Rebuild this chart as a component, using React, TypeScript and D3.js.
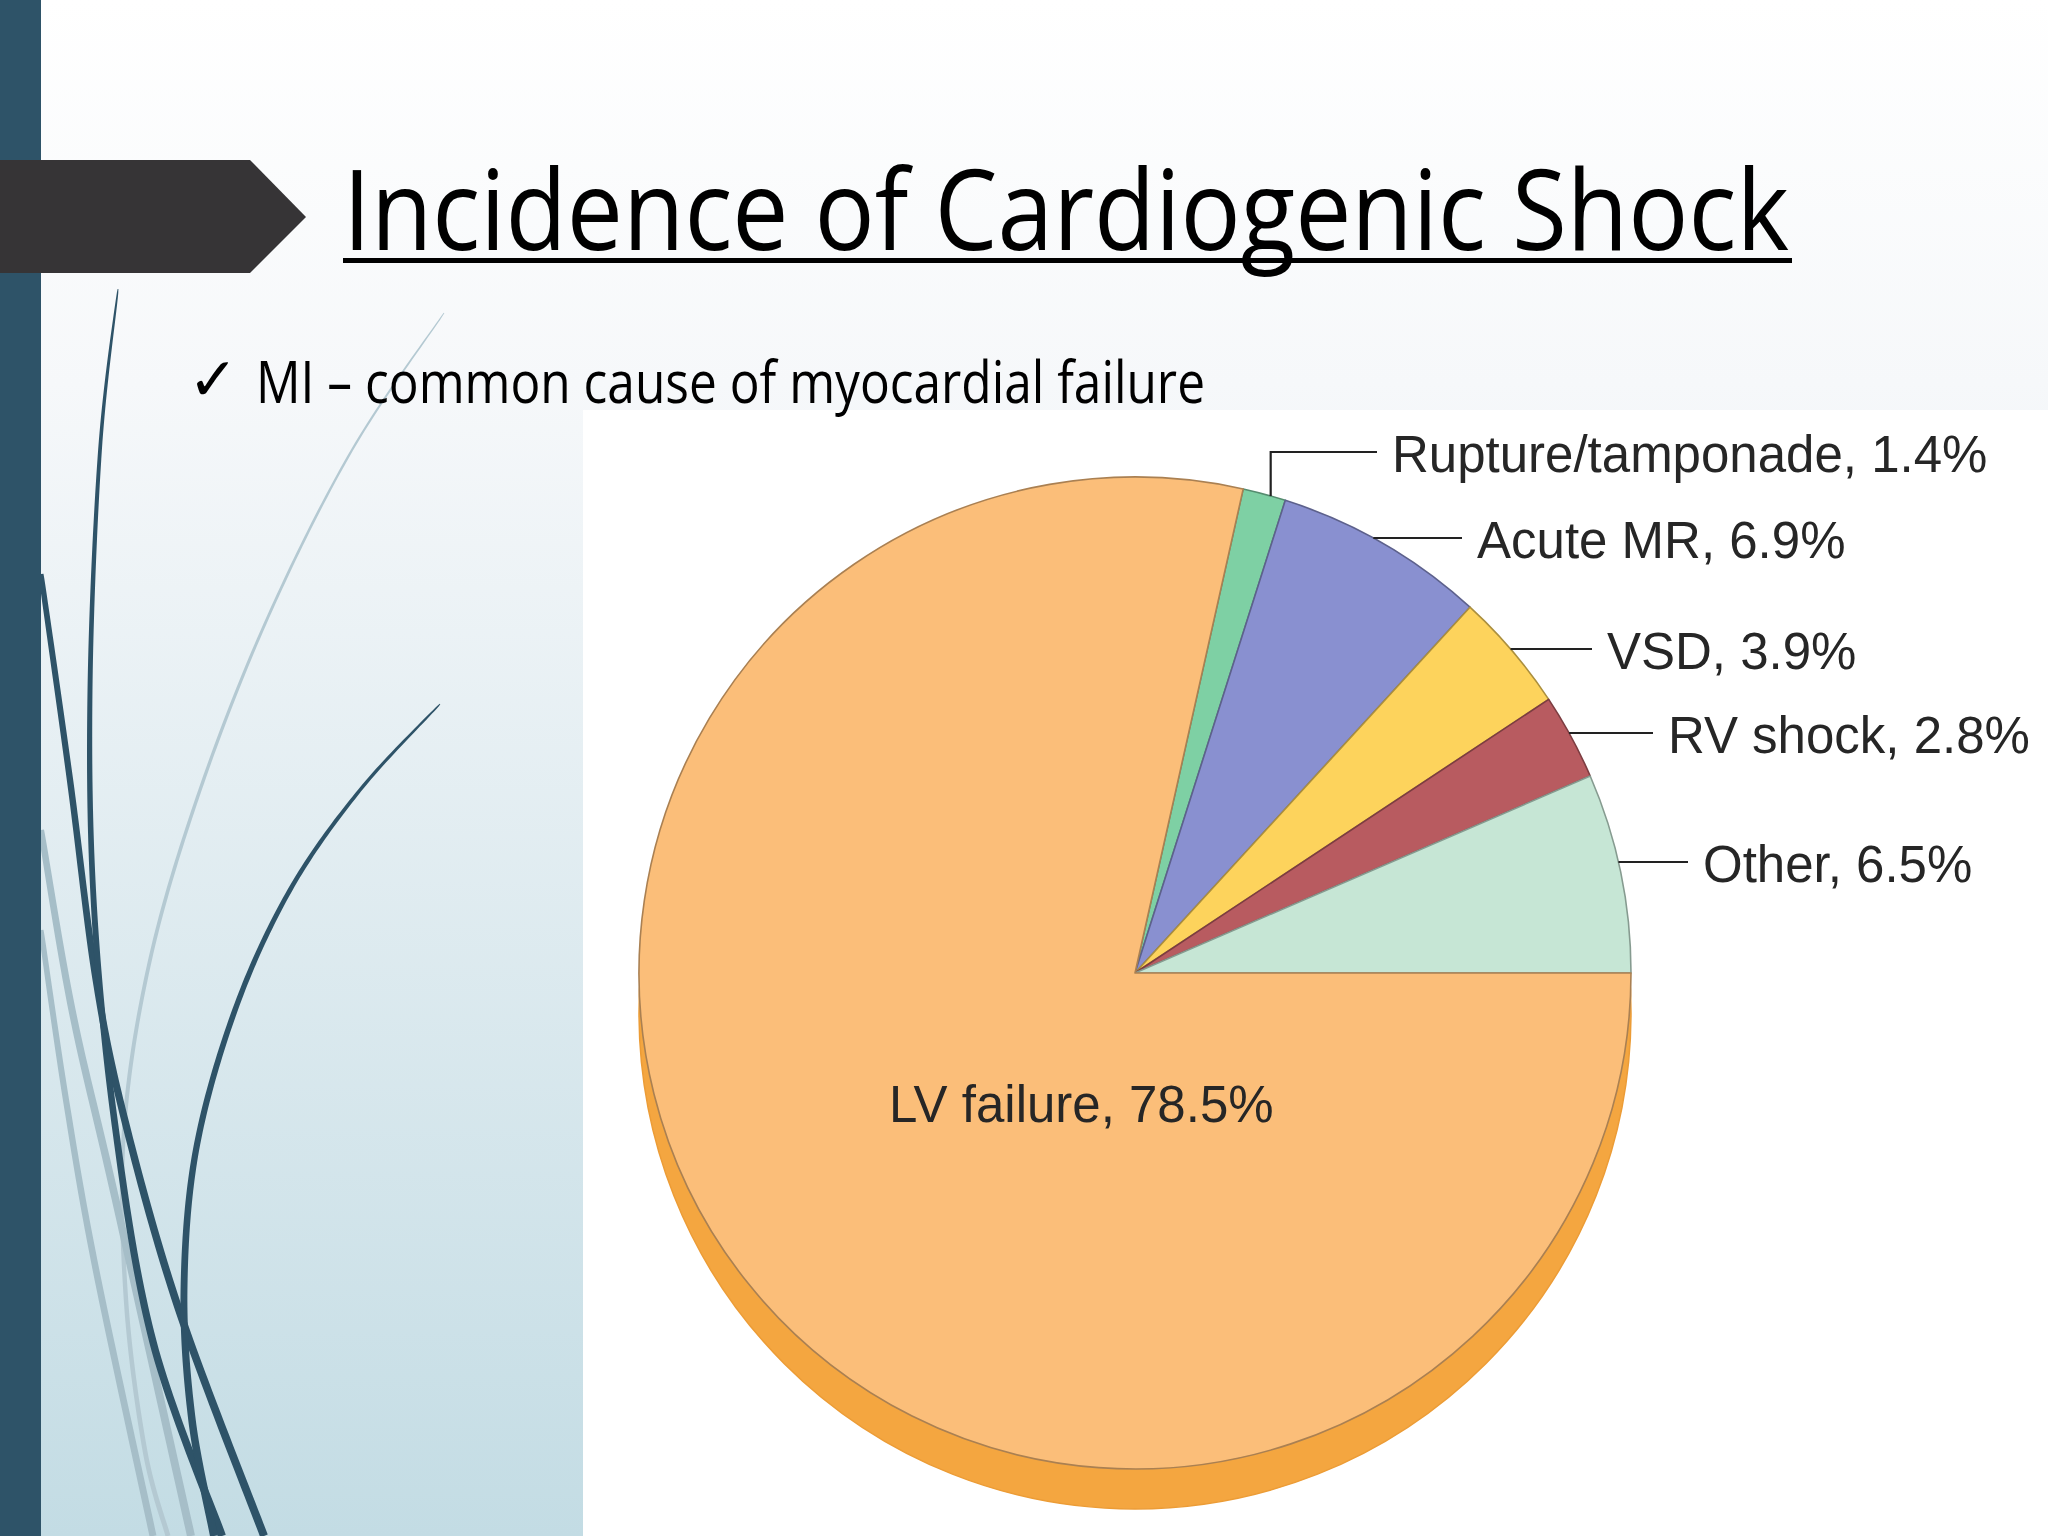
import React from "react";
import * as d3 from "d3";

// ---- data ----
const categories = ["Rupture/tamponade", "Acute MR", "VSD", "RV shock", "Other", "LV failure"];
const values = [1.4, 6.9, 3.9, 2.8, 6.5, 78.5];
const sliceColors = ["#7ED0A4", "#8990D0", "#FDD35C", "#B85B60", "#C6E6D5", "#FBBE79"];

const titleText = "Incidence of Cardiogenic Shock";
const bulletText = "MI \u2013 common cause of myocardial failure";

// ---- layout (positions, not data) ----
const W = 2048;
const H = 1536;
const cx = 1135;
const cy = 973;
const R = 496;
const depth = 40;
const labelLineY = [452, 538, 649, 733, 862];
const labelTextX = [1392, 1477, 1607, 1668, 1703];
const lvLabelPos = { x: 889, y: 1122 };

// decorative swooshes (background artwork): points, colour, start width, end width
type Swoosh = { pts: [number, number][]; color: string; w0: number; w1: number };
const swooshes: Swoosh[] = [
  { pts: [[444, 313], [352, 450], [268, 617], [200, 790], [150, 960], [124, 1130], [126, 1300], [145, 1451], [168, 1536]], color: "#B4C9D2", w0: 0.8, w1: 5 },
  { pts: [[41, 830], [72, 1010], [115, 1197], [191, 1536]], color: "#A6BEC8", w0: 6, w1: 8 },
  { pts: [[41, 930], [66, 1100], [96, 1270], [153, 1536]], color: "#A6BEC8", w0: 5, w1: 7 },
  { pts: [[41, 574], [70, 780], [96, 980], [126, 1125], [180, 1313], [264, 1536]], color: "#2E5368", w0: 5, w1: 8 },
  { pts: [[118, 289], [100, 450], [90, 690], [94, 907], [115, 1125], [153, 1342], [222, 1536]], color: "#2E5368", w0: 0.8, w1: 8 },
  { pts: [[440, 704], [360, 790], [290, 890], [235, 1010], [196, 1150], [184, 1290], [192, 1420], [214, 1536]], color: "#2E5368", w0: 0.8, w1: 8 },
];

function sampleCatmull(pts: [number, number][], steps: number): [number, number][] {
  const out: [number, number][] = [];
  const n = pts.length;
  for (let i = 0; i < n - 1; i++) {
    const p0 = pts[Math.max(0, i - 1)];
    const p1 = pts[i];
    const p2 = pts[i + 1];
    const p3 = pts[Math.min(n - 1, i + 2)];
    for (let s = 0; s < steps; s++) {
      const t = s / steps;
      const t2 = t * t;
      const t3 = t2 * t;
      const f = (a: number, b: number, c: number, d: number) =>
        0.5 * (2 * b + (-a + c) * t + (2 * a - 5 * b + 4 * c - d) * t2 + (-a + 3 * b - 3 * c + d) * t3);
      out.push([f(p0[0], p1[0], p2[0], p3[0]), f(p0[1], p1[1], p2[1], p3[1])]);
    }
  }
  out.push(pts[n - 1]);
  return out;
}

function taperedPath(s: Swoosh): string {
  const p = sampleCatmull(s.pts, 24);
  const m = p.length;
  const left: [number, number][] = [];
  const right: [number, number][] = [];
  for (let i = 0; i < m; i++) {
    const a = p[Math.max(0, i - 1)];
    const b = p[Math.min(m - 1, i + 1)];
    let dx = b[0] - a[0];
    let dy = b[1] - a[1];
    const len = Math.hypot(dx, dy) || 1;
    dx /= len;
    dy /= len;
    const t = Math.sqrt(i / (m - 1));
    const w = (s.w0 + (s.w1 - s.w0) * t) / 2;
    left.push([p[i][0] - dy * w, p[i][1] + dx * w]);
    right.push([p[i][0] + dy * w, p[i][1] - dx * w]);
  }
  const poly = left.concat(right.reverse());
  return d3.line()(poly) + "Z";
}

export default function App() {
  const total = d3.sum(values);
  const smallSum = d3.sum(values.slice(0, values.length - 1));
  const start = Math.PI / 2 - (2 * Math.PI * smallSum) / total;

  const pie = d3
    .pie<number>()
    .sort(null)
    .value((d) => d)
    .startAngle(start)
    .endAngle(start + 2 * Math.PI);
  const arcs = pie(values);
  const arc = d3.arc<d3.PieArcDatum<number>>().innerRadius(0).outerRadius(R);

  const fmt = (v: number) => `${v.toFixed(1)}%`;

  return (
    <svg width={W} height={H} style={{ position: "absolute", left: 0, top: 0 }}>
      <defs>
        <linearGradient id="bg" x1="0" y1="0" x2="0" y2="1">
          <stop offset="0" stopColor="#FFFFFF" />
          <stop offset="0.25" stopColor="#F6F8FA" />
          <stop offset="1" stopColor="#C3DCE4" />
        </linearGradient>
      </defs>
      <rect x={0} y={0} width={W} height={H} fill="url(#bg)" />

      {swooshes.map((s, i) => (
        <path key={i} d={taperedPath(s)} fill={s.color} stroke="none" />
      ))}

      {/* left bar */}
      <rect x={0} y={0} width={41} height={H} fill="#2E5368" />
      {/* title banner */}
      <path d="M0,160 L250,160 L306,217 L250,273 L0,273 Z" fill="#363436" />

      {/* title */}
      <text
        x={343}
        y={250}
        fontFamily="'Open Sans', 'Noto Sans', sans-serif"
        fontSize={112}
        fill="#000"
        textLength={1446}
        lengthAdjust="spacingAndGlyphs"
      >
        {titleText}
      </text>
      <rect x={343} y={258} width={1449} height={5} fill="#000" />

      {/* white chart area */}
      <rect x={583} y={410} width={W - 583} height={H - 410} fill="#FFFFFF" />

      {/* bullet */}
      <text x={188} y={400} fontFamily="'DejaVu Sans', sans-serif" fontSize={60} fill="#000" fontWeight="bold">
        {"\u2713"}
      </text>
      <text
        x={256}
        y={403}
        fontFamily="'Open Sans', 'Noto Sans', sans-serif"
        fontSize={59}
        fill="#000"
        textLength={949}
        lengthAdjust="spacingAndGlyphs"
      >
        {bulletText}
      </text>

      {/* pie rim (3D depth) */}
      <circle cx={cx} cy={cy + depth} r={R} fill="#F4A640" stroke="#EC9C36" strokeWidth={1.5} />

      {/* pie slices */}
      <g transform={`translate(${cx},${cy})`}>
        {arcs.map((a, i) => (
          <path
            key={i}
            d={arc(a) || ""}
            fill={sliceColors[i]}
            stroke={d3.color(sliceColors[i])!.darker(1.1).formatHex()}
            strokeWidth={1.6}
            strokeLinejoin="round"
          />
        ))}
      </g>

      {/* leader lines + labels */}
      {arcs.slice(0, labelLineY.length).map((a, i) => {
        const ly = labelLineY[i];
        const tx = labelTextX[i];
        let d: string;
        if (i === 0) {
          const ang = a.startAngle + (a.endAngle - a.startAngle) * 0.65;
          const px = cx + R * Math.sin(ang);
          const py = cy - R * Math.cos(ang);
          d = `M${px},${py} L${px},${ly} L${tx - 15},${ly}`;
        } else {
          const dy = ly - cy;
          const px = cx + Math.sqrt(R * R - dy * dy);
          d = `M${px},${ly} L${tx - 15},${ly}`;
        }
        return (
          <g key={i}>
            <path d={d} fill="none" stroke="#222" strokeWidth={2.2} />
            <text x={tx} y={ly + 20} fontFamily="'Liberation Sans', Arial, sans-serif" fontSize={51} fill="#262626">
              {`${categories[i]}, ${fmt(values[i])}`}
            </text>
          </g>
        );
      })}
      <text
        x={lvLabelPos.x}
        y={lvLabelPos.y}
        fontFamily="'Liberation Sans', Arial, sans-serif"
        fontSize={51}
        fill="#262626"
      >
        {`${categories[5]}, ${fmt(values[5])}`}
      </text>
    </svg>
  );
}
